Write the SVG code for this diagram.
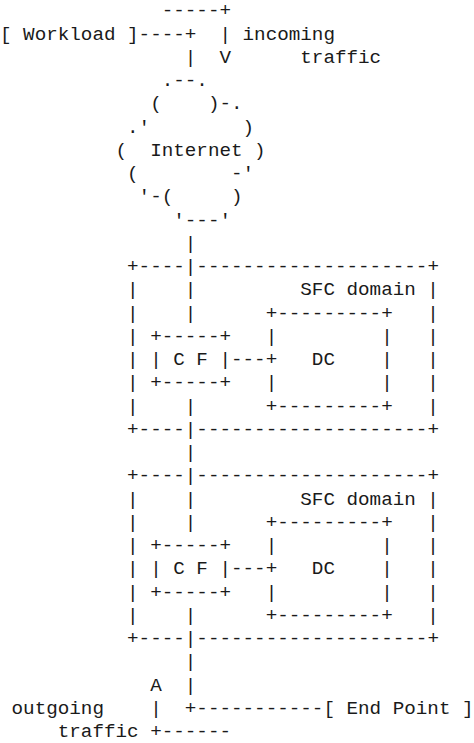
<svg xmlns="http://www.w3.org/2000/svg" width="474" height="743" viewBox="0 0 474 743">
<style>
text{font-family:"Liberation Mono","Courier New",monospace;font-size:19.25px;fill:#1a1a1a;white-space:pre}
</style>
<rect width="474" height="743" fill="#fff"/>
<g id="connectors">
<text x="161.7" y="16.3">-----+</text>
<text x="138.6" y="39.55">----+</text>
<text x="219.45" y="39.55">|</text>
<text x="184.8" y="62.8">|</text>
<text x="219.45" y="62.8">V</text>
<text x="184.8" y="248.8">|</text>
<text x="184.8" y="272.05">|</text>
<text x="184.8" y="295.3">|</text>
<text x="184.8" y="318.55">|</text>
<text x="231" y="365.05">---</text>
<text x="184.8" y="411.55">|</text>
<text x="184.8" y="434.8">|</text>
<text x="184.8" y="458.05">|</text>
<text x="184.8" y="481.3">|</text>
<text x="184.8" y="504.55">|</text>
<text x="184.8" y="527.8">|</text>
<text x="231" y="574.3">---</text>
<text x="184.8" y="620.8">|</text>
<text x="184.8" y="644.05">|</text>
<text x="184.8" y="667.3">|</text>
<text x="150.15" y="690.55">A</text>
<text x="184.8" y="690.55">|</text>
<text x="150.15" y="713.8">|</text>
<text x="184.8" y="713.8">+-----------</text>
<text x="150.15" y="737.05">+------</text>
</g>
<g id="workload">
<text x="0" y="39.55">[ Workload ]</text>
</g>
<g id="incoming-label">
<text x="242.55" y="39.55">incoming</text>
<text x="300.3" y="62.8">traffic</text>
</g>
<g id="internet">
<text x="161.7" y="86.05">.--.</text>
<text x="150.15" y="109.3">(    )-.</text>
<text x="127.05" y="132.55">.'        )</text>
<text x="115.5" y="155.8">(  Internet )</text>
<text x="127.05" y="179.05">(        -'</text>
<text x="138.6" y="202.3">'-(     )</text>
<text x="173.25" y="225.55">'---'</text>
</g>
<g id="sfc-domain-1">
<text x="127.05" y="272.05">+----</text>
<text x="196.35" y="272.05">--------------------+</text>
<text x="127.05" y="295.3">|</text>
<text x="300.3" y="295.3">SFC domain |</text>
<text x="127.05" y="318.55">|</text>
<text x="427.35" y="318.55">|</text>
<text x="127.05" y="341.8">|</text>
<text x="427.35" y="341.8">|</text>
<text x="127.05" y="365.05">|</text>
<text x="427.35" y="365.05">|</text>
<text x="127.05" y="388.3">|</text>
<text x="427.35" y="388.3">|</text>
<text x="127.05" y="411.55">|</text>
<text x="427.35" y="411.55">|</text>
<text x="127.05" y="434.8">+----</text>
<text x="196.35" y="434.8">--------------------+</text>
</g>
<g id="cf-1">
<text x="150.15" y="341.8">+-----+</text>
<text x="150.15" y="365.05">| C F |</text>
<text x="150.15" y="388.3">+-----+</text>
</g>
<g id="dc-1">
<text x="265.65" y="318.55">+---------+</text>
<text x="265.65" y="341.8">|         |</text>
<text x="265.65" y="365.05">+   DC    |</text>
<text x="265.65" y="388.3">|         |</text>
<text x="265.65" y="411.55">+---------+</text>
</g>
<g id="sfc-domain-2">
<text x="127.05" y="481.3">+----</text>
<text x="196.35" y="481.3">--------------------+</text>
<text x="127.05" y="504.55">|</text>
<text x="300.3" y="504.55">SFC domain |</text>
<text x="127.05" y="527.8">|</text>
<text x="427.35" y="527.8">|</text>
<text x="127.05" y="551.05">|</text>
<text x="427.35" y="551.05">|</text>
<text x="127.05" y="574.3">|</text>
<text x="427.35" y="574.3">|</text>
<text x="127.05" y="597.55">|</text>
<text x="427.35" y="597.55">|</text>
<text x="127.05" y="620.8">|</text>
<text x="427.35" y="620.8">|</text>
<text x="127.05" y="644.05">+----</text>
<text x="196.35" y="644.05">--------------------+</text>
</g>
<g id="cf-2">
<text x="150.15" y="551.05">+-----+</text>
<text x="150.15" y="574.3">| C F |</text>
<text x="150.15" y="597.55">+-----+</text>
</g>
<g id="dc-2">
<text x="265.65" y="527.8">+---------+</text>
<text x="265.65" y="551.05">|         |</text>
<text x="265.65" y="574.3">+   DC    |</text>
<text x="265.65" y="597.55">|         |</text>
<text x="265.65" y="620.8">+---------+</text>
</g>
<g id="outgoing-label">
<text x="11.55" y="713.8">outgoing</text>
<text x="57.75" y="737.05">traffic</text>
</g>
<g id="end-point">
<text x="323.4" y="713.8">[ End Point ]</text>
</g>
</svg>
